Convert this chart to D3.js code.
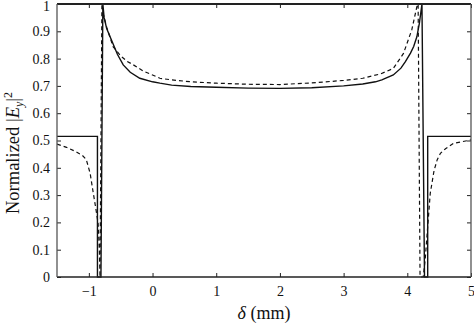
<!DOCTYPE html>
<html><head><meta charset="utf-8">
<script src="https://cdn.jsdelivr.net/npm/d3@7"></script>
<style>html,body{margin:0;padding:0;background:#fff;}svg{display:block;}</style>
</head><body>
<svg id="c" width="474" height="324"></svg>
<script>
// ---- data ----
const xTicks = [-1, 0, 1, 2, 3, 4, 5];
const yTicks = [0, 0.1, 0.2, 0.3, 0.4, 0.5, 0.6, 0.7, 0.8, 0.9, 1];
const yTickLabels = ["0", "0.1", "0.2", "0.3", "0.4", "0.5", "0.6", "0.7", "0.8", "0.9", "1"];

const solidX = [-1.5, -0.865, -0.865, -0.81, -0.78, -0.76, -0.72, -0.645, -0.55, -0.46, -0.35, -0.2, 0, 0.115, 0.3, 0.6, 1, 1.5, 2, 2.5, 3, 3.3, 3.5, 3.6, 3.78, 3.9, 3.97, 4.05, 4.1, 4.15, 4.19, 4.23, 4.27, 4.32, 4.32, 5];
const solidY = [0.515, 0.515, 0, 0, 1.0, 0.95, 0.91, 0.868, 0.815, 0.777, 0.75, 0.728, 0.715, 0.71, 0.703, 0.698, 0.695, 0.692, 0.691, 0.693, 0.70, 0.707, 0.715, 0.722, 0.74, 0.765, 0.789, 0.82, 0.844, 0.88, 0.93, 1.0, 0, 0, 0.515, 0.515];

const dashX = [-1.5, -1.35, -1.2, -1.1, -1.04, -0.98, -0.93, -0.89, -0.855, -0.835, -0.825, -0.795, -0.77, -0.72, -0.62, -0.5, -0.4, -0.3, -0.15, 0, 0.115, 0.3, 0.6, 1, 1.5, 2, 2.5, 3, 3.3, 3.58, 3.78, 3.94, 4.07, 4.15, 4.17, 4.2, 4.25, 4.28, 4.36, 4.42, 4.47, 4.52, 4.6, 4.73, 5];
const dashY = [0.487, 0.475, 0.459, 0.445, 0.43, 0.38, 0.307, 0.25, 0.197, 0.1, 0, 1.0, 0.96, 0.915, 0.844, 0.81, 0.79, 0.777, 0.755, 0.74, 0.728, 0.722, 0.715, 0.71, 0.706, 0.705, 0.711, 0.72, 0.728, 0.744, 0.764, 0.819, 0.905, 0.99, 1.0, 0, 0, 0.062, 0.306, 0.39, 0.43, 0.453, 0.47, 0.49, 0.502];

// ---- chart ----
const svg = d3.select("#c");
const L = 57, R = 471, T = 4, B = 277;
const x = d3.scaleLinear().domain([-1.5, 5]).range([L, R]);
const y = d3.scaleLinear().domain([0, 1]).range([B, T]);
const font = "'Liberation Serif','Times New Roman',serif";

svg.append("defs").append("clipPath").attr("id", "clip")
  .append("rect").attr("x", L).attr("y", T - 1).attr("width", R - L).attr("height", B - T + 2);

const line = d3.line().x(d => x(d[0])).y(d => y(d[1]));
const g = svg.append("g").attr("clip-path", "url(#clip)");
g.append("path").datum(dashX.map((v, i) => [v, dashY[i]]))
  .attr("d", line).attr("fill", "none").attr("stroke", "#111")
  .attr("stroke-width", 1.2).attr("stroke-dasharray", "4,3");
g.append("path").datum(solidX.map((v, i) => [v, solidY[i]]))
  .attr("d", line).attr("fill", "none").attr("stroke", "#111")
  .attr("stroke-width", 1.4);

// axes (ticks inward)
const tl = 4;
const axB = d3.axisBottom(x).tickValues(xTicks).tickSizeInner(-tl).tickSizeOuter(0).tickPadding(9).tickFormat(d3.format("d"));
const axT = d3.axisTop(x).tickValues(xTicks).tickSizeInner(-tl).tickSizeOuter(0).tickFormat("");
const axL = d3.axisLeft(y).tickValues(yTicks).tickSizeInner(-tl).tickSizeOuter(0).tickPadding(7).tickFormat((d, i) => yTickLabels[i]);
const axR = d3.axisRight(y).tickValues(yTicks).tickSizeInner(-tl).tickSizeOuter(0).tickFormat("");

function style(sel) {
  sel.selectAll("path.domain").remove();
  sel.selectAll("line").attr("stroke", "#222").attr("stroke-width", 1);
  sel.selectAll("text").attr("font-family", font).attr("font-size", 14).attr("fill", "#111");
}
svg.append("g").attr("transform", `translate(0,${B})`).call(axB).call(style);
svg.append("g").attr("transform", `translate(0,${T})`).call(axT).call(style);
const gL = svg.append("g").attr("transform", `translate(${L},0)`).call(axL).call(style);
gL.selectAll(".tick").filter(d => d === 1).select("text").attr("dy", "0.45em");
svg.append("g").attr("transform", `translate(${R},0)`).call(axR).call(style);

// box
svg.append("line").attr("x1", L).attr("x2", R).attr("y1", T).attr("y2", T).attr("stroke", "#222").attr("stroke-width", 1.8);
svg.append("line").attr("x1", L).attr("x2", R).attr("y1", B).attr("y2", B).attr("stroke", "#222").attr("stroke-width", 1.5);
svg.append("line").attr("x1", L).attr("x2", L).attr("y1", T).attr("y2", B).attr("stroke", "#555").attr("stroke-width", 1.3);
svg.append("line").attr("x1", R).attr("x2", R).attr("y1", T).attr("y2", B).attr("stroke", "#555").attr("stroke-width", 1.3);

// x label
const xl = svg.append("text").attr("x", 264).attr("y", 319)
  .attr("text-anchor", "middle").attr("font-family", font).attr("font-size", 18).attr("fill", "#111");
xl.append("tspan").attr("font-style", "italic").text("δ");
xl.append("tspan").text(" (mm)");

// y label
const yl = svg.append("text").attr("transform", `translate(19,153) rotate(-90)`)
  .attr("text-anchor", "middle").attr("font-family", font).attr("font-size", 18.5).attr("fill", "#111");
yl.append("tspan").text("Normalized |");
yl.append("tspan").attr("font-style", "italic").text("E");
yl.append("tspan").attr("font-style", "italic").attr("font-size", 12).attr("dy", 4).text("y");
yl.append("tspan").attr("dy", -4).text("|");
yl.append("tspan").attr("font-size", 12).attr("dy", -7).text("2");
</script>
</body></html>
